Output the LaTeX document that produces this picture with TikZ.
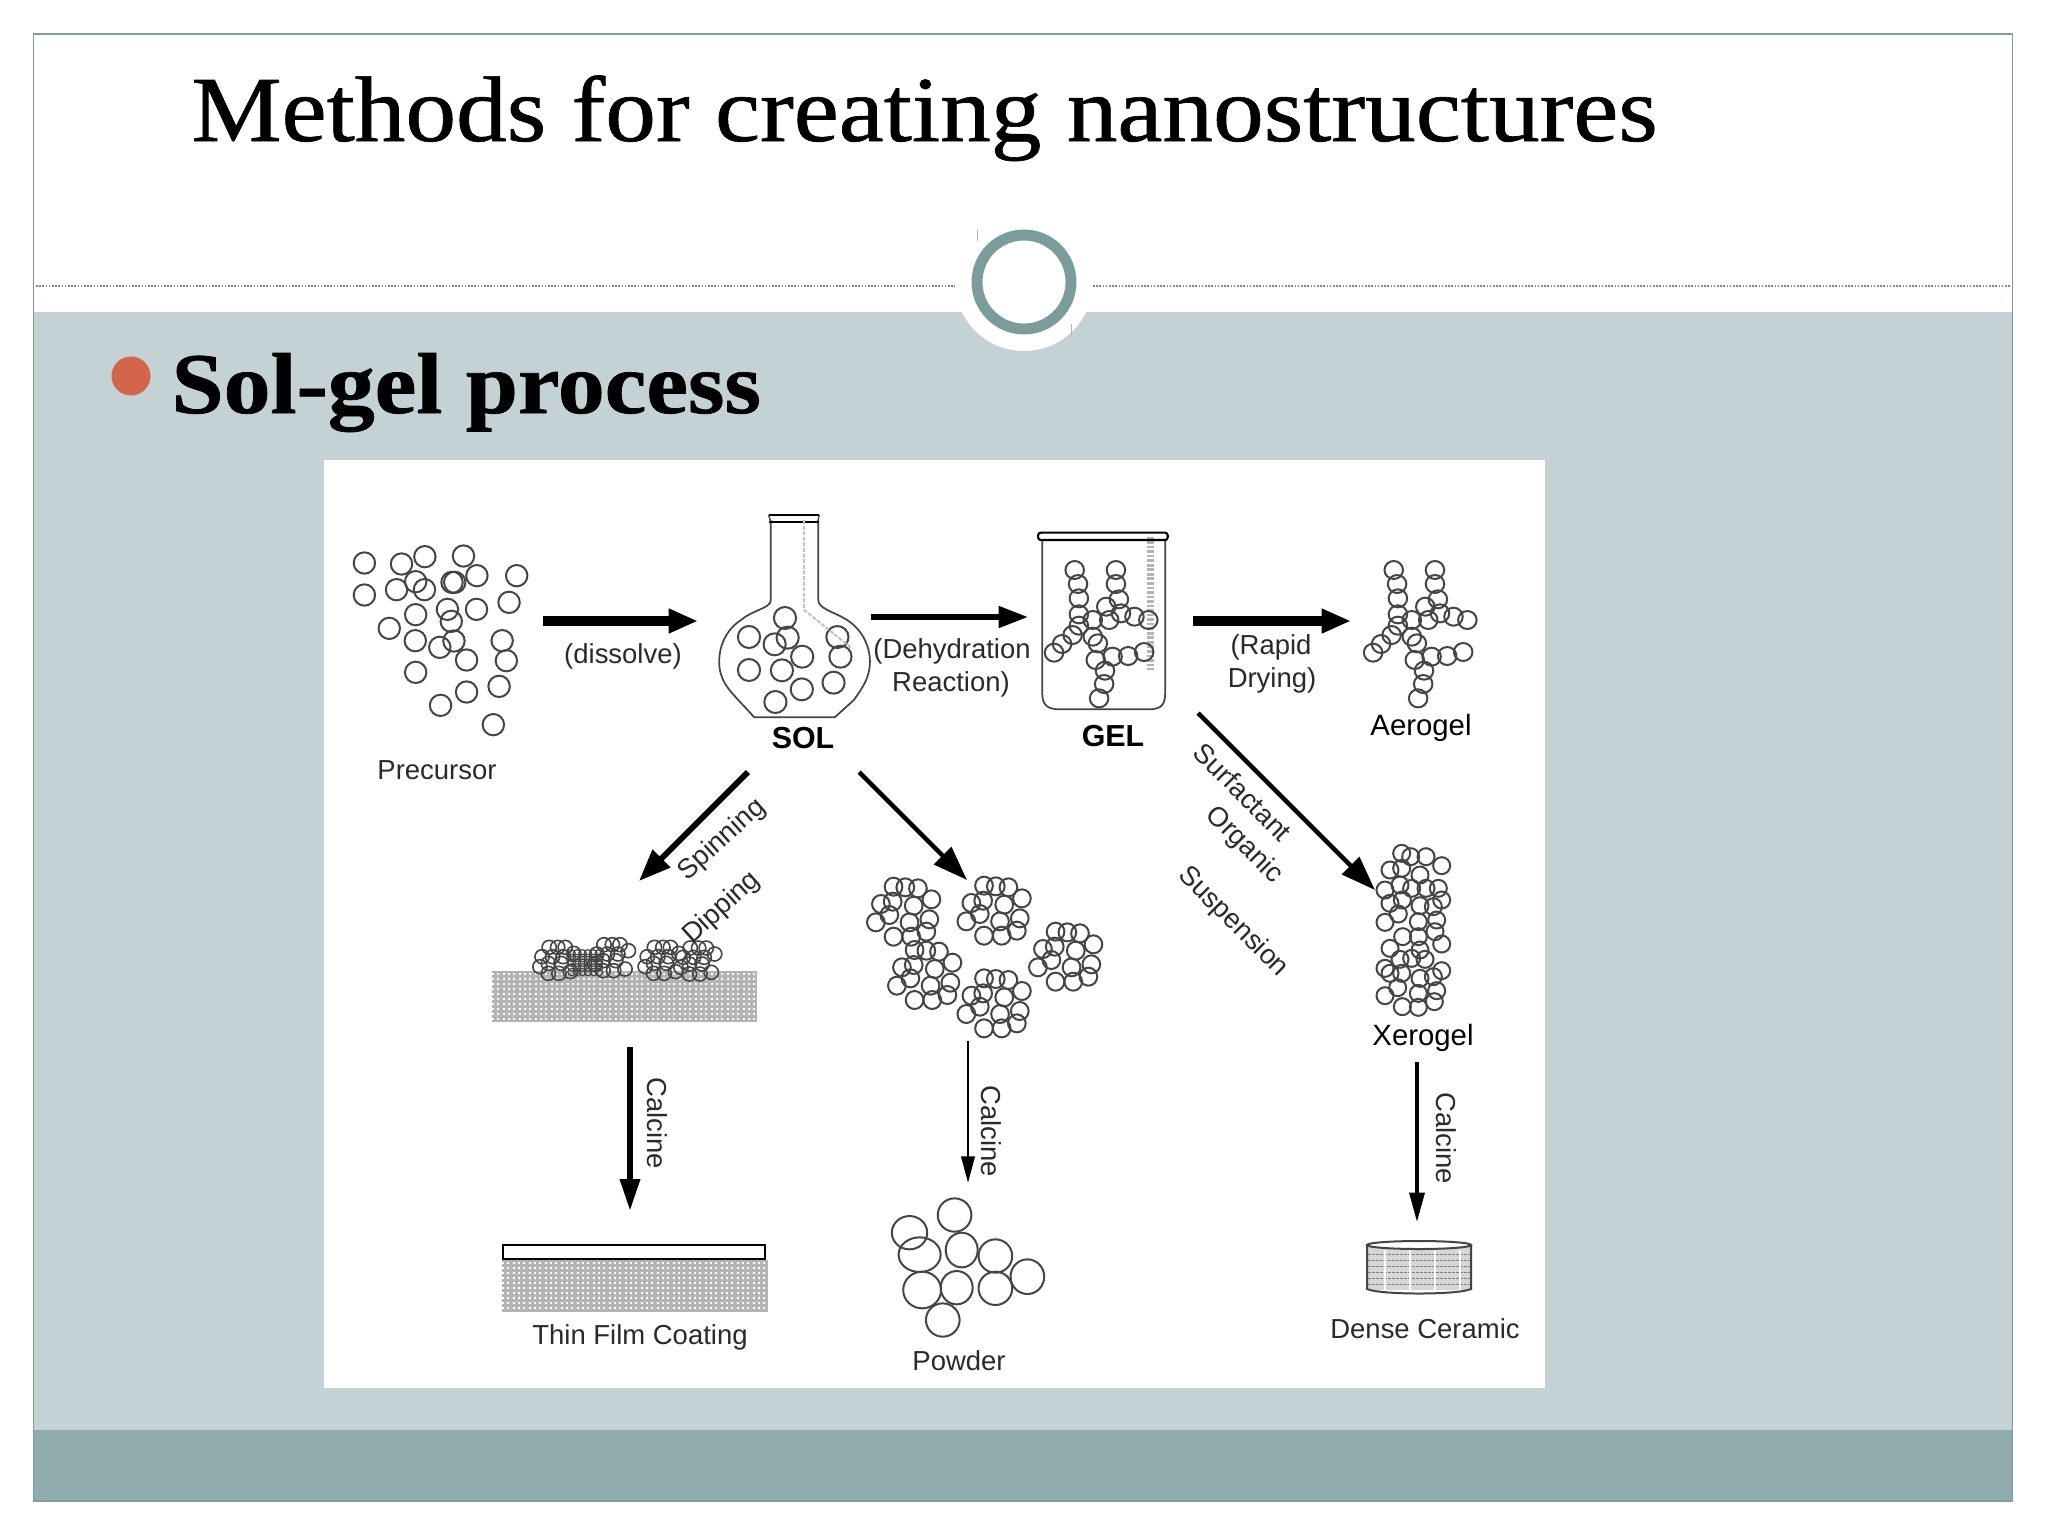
\documentclass[tikz,border=0pt]{standalone}
\usepackage{fontspec}
\setmainfont{Liberation Serif}
\setsansfont{Liberation Sans}
\newfontfamily\titlefont{Liberation Serif}[FakeBold=0.7]
\newfontfamily\headfont{Liberation Serif Bold}[FakeBold=0.8]
\usetikzlibrary{arrows.meta}
\definecolor{bandc}{HTML}{C4D1D5}
\definecolor{footc}{HTML}{8FABAD}
\definecolor{framec}{HTML}{7F9F9B}
\definecolor{ringc}{HTML}{7C9C9C}
\definecolor{bulletc}{HTML}{D2654C}
\definecolor{inkc}{HTML}{454545}
\definecolor{labelc}{HTML}{2A2A2A}
\definecolor{gritc}{HTML}{B4B4B4}
\tikzset{
  ball/.style={draw=inkc,line width=0.75pt},
  thinball/.style={draw=inkc,line width=0.6pt},
  lab/.style={font=\sffamily\fontsize{10.3}{12}\selectfont,text=labelc,inner sep=0pt},
  mlab/.style={font=\sffamily\fontsize{11}{12}\selectfont,text=black,inner sep=0pt},
  blab/.style={font=\sffamily\bfseries\fontsize{11.4}{12}\selectfont,text=black,inner sep=0pt},
  glass/.style={draw=inkc,line width=0.65pt},
  arrowA/.style={black,line width=3.4pt,-{Triangle[length=11pt,width=8.6pt]}},
  arrowB/.style={black,line width=2pt,-{Triangle[length=11pt,width=7.8pt]}},
  arrowC/.style={black,line width=2.2pt,-{Triangle[length=12pt,width=9pt]}},
  arrowD/.style={black,line width=1.6pt,-{Triangle[length=13pt,width=9pt]}},
  arrowE/.style={black,line width=2.2pt,-{Triangle[length=12pt,width=7.2pt]}},
  arrowF/.style={black,line width=1.1pt,-{Triangle[length=10pt,width=5pt]}},
  arrowG/.style={black,line width=1.3pt,-{Triangle[length=11pt,width=5.6pt]}},
}
\newcommand{\gelballs}{415/270,423/312,425/355,425/403,425/437,513/270,513/312,520/358,490/380,458/420,497/420,525/400,557/410,590/420,410/465,385/492,366/518,458/470,470/490,465/540,505/530,542/528,580/516,487/572,485/612,473/655}
\newcommand{\clusterballs}{1030/380,1058/382,1088/385,1120/418,1000/432,1028/425,1078/437,1020/465,988/487,1068/487,1115/478,1108/515,1030/530,1072/530}
\newcommand{\blobballs}{212/562,232/562,250/562,195/590,220/590,245/590,270/580,190/620,210/610,240/610,210/640,235/640,262/635}
\newcommand{\gritrows}[5]{%
  \fill[gritc] (#1,#2) rectangle (#3,#4);
  \foreach \yy in {#5} \draw[white,line width=0.6pt,dash pattern=on 0.8pt off 1.2pt] (#1,\yy) -- (#3,\yy);
}
\begin{document}
\begin{tikzpicture}[x=0.375pt,y=-0.375pt]
\useasboundingbox (0,0) rectangle (2048,1536);
\fill[white] (0,0) rectangle (2048,1536);
% slide
\fill[bandc] (34,312) rectangle (2012,1430);
\fill[footc] (34,1430) rectangle (2012,1501);
\draw[framec,line width=0.7pt] (33.5,34) rectangle (2012.5,1501);
\fill[white] (1024,282) circle (69);
\draw[gray,line width=0.45pt,dash pattern=on 0.6pt off 0.6pt] (36,286) -- (955,286);
\draw[gray,line width=0.45pt,dash pattern=on 0.6pt off 0.6pt] (1093,286) -- (2010,286);
\draw[ringc,line width=4.1pt] (1024,282) circle (47);
\draw[framec!70,line width=0.3pt] (977,230) -- (977,241);
\draw[framec!70,line width=0.3pt] (1071,324) -- (1071,335);
\node[anchor=base west,inner sep=0pt] (title) at (191,141) {\resizebox{549.75pt}{24.6pt}{\titlefont\fontsize{35}{40}\selectfont Methods for creating nanostructures}};
\fill[bulletc] (131,376) circle (19.5);
\node[anchor=base west,inner sep=0pt] (bullet) at (171,413) {\resizebox{221pt}{22.5pt}{\headfont\fontsize{28}{32}\selectfont Sol-gel process}};
% image panel
\fill[white] (324,460) rectangle (1545,1388);

% crop 1 : precursor and flask
\begin{scope}[shift={(320,460)},x=0.14351pt,y=-0.125pt]
  \foreach \a/\b in {116/309,213/312,274/290,375/288,410/347,514/347,250/365,273/389,200/389,116/405,352/367,345/367,333/448,409/448,494/427,250/464,343/484,181/505,249/542,313/562,350/543,476/542,487/602,383/600,250/637,383/696,468/679,315/736,453/794}
    \draw[ball] (\a,\b) circle [x radius=28,y radius=32];
  \foreach \a/\b in {1215/474,1121/531,1222/533,1188/553,1352/531,1360/590,1260/590,1121/630,1207/631,1342/668,1259/688,1190/726}
    \draw[ball] (\a,\b) circle [x radius=29,y radius=33];
  \draw[glass] (1178,180) -- (1178,420) .. controls (1178,445) and (1130,450) .. (1100,480)
    .. controls (1060,510) and (1043,560) .. (1043,605) .. controls (1043,660) and (1070,690) .. (1085,710)
    -- (1135,772) -- (1345,772) -- (1395,720) .. controls (1420,680) and (1437,650) .. (1437,605)
    .. controls (1437,550) and (1410,500) .. (1370,475) .. controls (1340,455) and (1302,445) .. (1302,420) -- (1302,180);
  \draw[black,line width=0.8pt] (1172,165) -- (1305,165) (1172,185) -- (1305,185);
  \draw[inkc,line width=0.5pt] (1172,165) -- (1178,185) (1305,165) -- (1300,185);
  \draw[gritc!80,line width=0.8pt,dash pattern=on 1.5pt off 0.6pt] (1265,180) -- (1265,450) -- (1390,565);
\end{scope}

% crop 2 : beaker, gel and aerogel
\begin{scope}[shift={(900,480)},x=0.15783pt,y=-0.125pt]
  \draw[gritc,line width=2.8pt,dash pattern=on 1pt off 0.7pt] (595,170) -- (595,570);
  \draw[glass] (338,180) -- (338,640) .. controls (338,675) and (350,688) .. (380,688)
     -- (590,688) .. controls (620,688) and (630,675) .. (630,640) -- (630,180);
  \draw[black,line width=0.8pt,rounded corners=1pt] (328,180) -- (328,158) -- (636,158) -- (636,180) -- cycle;
  \foreach \a/\b in \gelballs {
    \draw[ball] (\a,\b) circle [x radius=22,y radius=27];
    \draw[ball] (\a+758,\b) circle [x radius=22,y radius=27];
  }
\end{scope}

% crop 3 : film, clusters
\gritrows{492}{971}{757}{1022}{974,979,984,989,994,999,1004,1009,1014,1019}
\begin{scope}[shift={(460,760)},x=0.15783pt,y=-0.125pt]
  \foreach \dx/\dy in {0/0,130/-8,250/0,335/2}
    \foreach \a/\b in \blobballs
      \draw[thinball] (\a+\dx,\b+\dy) circle [x radius=17,y radius=21];
  \foreach \a in {265,278,291,304,317,330}
    \foreach \b in {580,594,608,622,636}
      \draw[draw=inkc,line width=0.45pt] (\a,\b) circle [x radius=9,y radius=11];
  \foreach \dx/\dy in {0/0,215/-3,385/135,50/190,215/275}
    \foreach \a/\b in \clusterballs
      \draw[ball] (\a+\dx,\b+\dy) circle [x radius=21,y radius=27];
\end{scope}

% crop 4 : xerogel
\begin{scope}[shift={(1100,760)},x=0.125pt,y=-0.125pt]
  \foreach \a/\b in {905/280,932/290,978/290,1025/317,870/330,905/325,960/345,855/390,900/375,935/385,978/385,1015/385,1025/420,870/430,907/420,960/437,895/462,855/487,955/485,1010/480,908/530,955/530,1005/515,870/565,1025/552,900/598,935/595,975/598,855/625,870/640,905/640,1025/632,960/655,893/683,955/700,1010/692,855/707,907/740,955/742,1003/725,960/570,1000/440,1000/650}
    \draw[ball] (\a,\b) circle (25.5);
\end{scope}

% crop 5 : coating, powder
\gritrows{502}{1260}{768}{1312}{1263,1268,1273,1278,1283,1288,1293,1298,1303,1308}
\draw[black,line width=0.8pt] (503,1245) rectangle (765,1259);
\begin{scope}[shift={(460,1100)},x=0.15783pt,y=-0.125pt]
  \foreach \a/\b/\rx/\ry in {1175/345/40/50,1068/398/42/50,1092/464/50/52,1192/450/38/52,1272/468/40/50,1098/570/45/55,1180/563/38/50,1272/565/40/50,1348/530/40/52,1147/660/40/50}
    \draw[ball] (\a,\b) circle [x radius=\rx,y radius=\ry];
\end{scope}

% ceramic
\fill[gritc!55] (1367,1245) rectangle (1471,1290);
\foreach \yy in {1254,1260,1266,1272,1278,1284} \draw[gray,line width=0.35pt,dash pattern=on 1pt off 0.5pt] (1368,\yy) -- (1470,\yy);
\foreach \xx in {1385,1410,1435,1460} \draw[white,line width=0.8pt] (\xx,1250) -- (\xx,1291);
\fill[white] (1419,1245) ellipse [x radius=52,y radius=4];
\draw[inkc,line width=0.75pt] (1367,1245) -- (1367,1289) .. controls (1380,1295) and (1458,1295) .. (1471,1289) -- (1471,1245);
\draw[inkc,line width=0.75pt] (1419,1245) ellipse [x radius=52,y radius=4];

% labels
\node[lab] (precursor) at (437,770) {Precursor};
\node[lab] (dissolve) at (623,656) {(dissolve)};
\node[blab] (sol) at (803,738) {SOL};
\node[lab] (dehyd) at (952,651) {(Dehydration};
\node[lab] (react) at (951,684) {Reaction)};
\node[blab] (gel) at (1113,736) {GEL};
\node[lab] (rapid) at (1271,647) {(Rapid};
\node[lab] (drying) at (1272,680) {Drying)};
\node[mlab] (aerogel) at (1421,728) {Aerogel};
\node[lab,rotate=42] (spinning) at (722,840) {Spinning};
\node[lab,rotate=42] (dipping) at (722,908) {Dipping};
\node[lab,rotate=-45] (surfactant) at (1243,792) {Surfactant};
\node[lab,rotate=-45] (organic) at (1244,845) {Organic};
\node[lab,rotate=-45] (suspension) at (1233,922) {Suspension};
\node[mlab] (xerogel) at (1423,1038) {Xerogel};
\node[lab,rotate=-90] (calcA) at (657,1123) {Calcine};
\node[lab,rotate=-90] (calcB) at (991,1131) {Calcine};
\node[lab,rotate=-90] (calcC) at (1446,1138) {Calcine};
\node[lab] (thinfilm) at (640,1337) {Thin Film Coating};
\node[lab] (powder) at (959,1361) {Powder};
\node[lab] (ceramic) at (1425,1329) {Dense Ceramic};

% connectors
\coordinate (d0) at (543,621); \coordinate (d1) at (698,621);
\coordinate (h0) at (871,617); \coordinate (h1) at (1028,617);
\coordinate (r0) at (1193,621); \coordinate (r1) at (1351,621);
\coordinate (s0) at (748,772); \coordinate (s1) at (639,881);
\coordinate (p0) at (859,772); \coordinate (p1) at (967,880);
\coordinate (x0) at (1198,713); \coordinate (x1) at (1375,890);
\coordinate (c0) at (630,1047); \coordinate (c1) at (630,1211);
\coordinate (e0) at (968,1041); \coordinate (e1) at (968,1183);
\coordinate (f0) at (1417,1062); \coordinate (f1) at (1417,1222);
\draw[arrowA] (d0) -- (d1);
\draw[arrowB] (h0) -- (h1);
\draw[arrowA] (r0) -- (r1);
\draw[arrowC] (s0) -- (s1);
\draw[arrowD] (p0) -- (p1);
\draw[arrowD] (x0) -- (x1);
\draw[arrowE] (c0) -- (c1);
\draw[arrowF] (e0) -- (e1);
\draw[arrowG] (f0) -- (f1);
\end{tikzpicture}
\end{document}
